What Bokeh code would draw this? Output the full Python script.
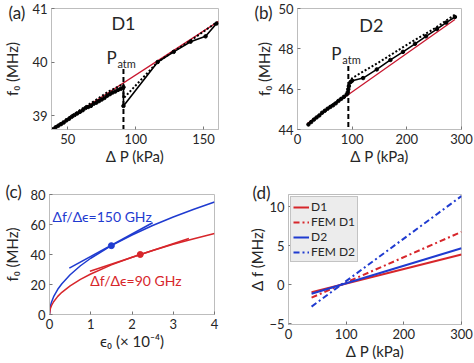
from bokeh.plotting import figure
from bokeh.models import Label, Range1d, Legend, LegendItem, FixedTicker, Title
from bokeh.layouts import row, column
from bokeh.embed import file_html
from bokeh.resources import INLINE

# ---------------- data ----------------
# (a) device D1
a_x = [38.5, 41, 43, 45, 47, 49, 51, 53, 55, 57, 59, 61, 63, 65, 67, 69, 71, 73, 75, 77,
       79, 81, 83, 85, 87, 89, 91, 91, 116.2, 128, 140.4, 151.5, 159.6]
a_y = [38.74, 38.78, 38.81, 38.84, 38.87, 38.91, 38.94, 38.98, 39.01, 39.04, 39.07, 39.10,
       39.14, 39.16, 39.18, 39.22, 39.24, 39.27, 39.30, 39.33, 39.37, 39.40, 39.43, 39.45,
       39.48, 39.50, 39.53, 39.18, 40.00, 40.19, 40.38, 40.48, 40.72]
a_model_x = [38.5, 50, 60, 70, 80, 91, 91, 116.2, 128, 140.4, 159.6]
a_model_y = [38.75, 38.95, 39.12, 39.28, 39.45, 39.59, 39.32, 40.0, 40.2, 40.4, 40.74]
a_fit_x = [38, 161]
a_fit_y = [38.74, 40.76]
a_patm = 91
a_patm_top = 39.87

# (b) device D2
b_x = [20, 25, 30, 35, 40, 45, 50, 55, 60, 65, 70, 75, 80, 85, 90, 92, 93, 94, 97, 100,
       120, 145, 170, 193, 215, 235, 255, 272, 288]
b_y = [44.25, 44.37, 44.49, 44.60, 44.70, 44.83, 44.93, 45.03, 45.12, 45.20, 45.30, 45.42,
       45.52, 45.62, 45.74, 45.85, 46.00, 46.15, 46.35, 46.42, 46.55, 46.98, 47.45, 47.85,
       48.25, 48.62, 48.98, 49.30, 49.58]
b_model_x = [20, 50, 90, 93, 100, 150, 200, 250, 288]
b_model_y = [44.28, 44.95, 45.76, 46.10, 46.55, 47.35, 48.2, 49.0, 49.7]
b_fit_x = [18, 288]
b_fit_y = [44.30, 49.45]
b_patm = 93
b_patm_top = 47.15

# (c) f0 vs strain
c_eps = [0, 0.02, 0.05, 0.1, 0.2, 0.3, 0.5, 0.75, 1.0, 1.5, 2.0, 2.5, 3.0, 3.5, 4.0]
c_blue = [0, 5.3, 8.4, 11.9, 16.8, 20.5, 26.5, 32.5, 37.5, 45.9, 53.0, 59.3, 65.0, 70.2, 75.0]
c_red = [0, 3.8, 6.0, 8.5, 12.1, 14.8, 19.1, 23.4, 27.0, 33.1, 38.2, 42.7, 46.8, 50.5, 54.0]
c_blue_tan_x = [0.48, 2.5]
c_blue_tan_y = [30.9, 61.2]
c_red_tan_x = [0.98, 3.38]
c_red_tan_y = [28.9, 50.6]
c_blue_pt = (1.5, 45.9)
c_red_pt = (2.2, 40.0)

# (d) frequency shift vs pressure
d_x = [40, 300]
d_d1 = [-0.95, 3.9]
d_fem_d1 = [-1.65, 6.8]
d_d2 = [-1.15, 4.7]
d_fem_d2 = [-2.8, 11.4]

# ---------------- style ----------------
FONT = "Lato"
RED = "#d7262b"
FITRED = "#c8162e"
BLUE = "#1f3bd0"
GRAY = "#bdbdbd"
TXT = "#262626"


def make_fig(xr, yr, xt, yt, xlabel, ylabel, ysd, ml, fw, mr, mt, fh, mb):
    p = figure(frame_width=fw, frame_height=fh, min_border_left=ml, min_border_right=mr,
               min_border_top=mt, min_border_bottom=mb,
               x_range=Range1d(*xr), y_range=Range1d(*yr),
               output_backend="svg", toolbar_location=None)
    p.xaxis.ticker = FixedTicker(ticks=xt)
    p.yaxis.ticker = FixedTicker(ticks=yt)
    p.xaxis.axis_label = xlabel
    p.yaxis.axis_label = ylabel
    for ax in (p.xaxis[0], p.yaxis[0]):
        ax.axis_line_color = GRAY
        ax.major_tick_in = 3
        ax.major_tick_out = 0
        ax.major_tick_line_color = "#777777"
        ax.minor_tick_line_color = None
        ax.major_label_text_font = FONT
        ax.major_label_text_font_size = "13px"
        ax.major_label_text_color = TXT
        ax.axis_label_text_font = FONT
        ax.axis_label_text_font_size = "15px"
        ax.axis_label_text_font_style = "normal"
        ax.axis_label_text_color = TXT
        ax.major_label_standoff = 4
    p.xaxis.axis_label_standoff = 0
    p.yaxis.axis_label_standoff = ysd
    p.outline_line_color = GRAY
    p.grid.visible = False
    return p


def letter(p, text, offset, standoff):
    p.title = Title(text=text, align="left", offset=offset, standoff=standoff,
                    text_font=FONT, text_font_size="17px", text_color=TXT,
                    text_font_style="normal")


def patm(p, x, y):
    p.add_layout(Label(x=x, y=y, x_offset=-17, y_offset=12, text="P",
                       text_font=FONT, text_font_size="17px", text_color=TXT,
                       text_baseline="middle"))
    p.add_layout(Label(x=x, y=y, x_offset=-6, y_offset=6, text="atm",
                       text_font=FONT, text_font_size="11px", text_color=TXT,
                       text_baseline="middle"))


# ---------------- (a) ----------------
pa = make_fig((38, 161), (38.74, 41), [50, 100, 150], [39, 40, 41],
              "Δ P (kPa)", "f₀ (MHz)", 8, 50, 167, 20, 8, 121, 52)
pa.line(a_fit_x, a_fit_y, line_color=FITRED, line_width=1.3)
pa.line(a_model_x, a_model_y, line_color="black", line_width=2, line_dash="2 2")
pa.line(a_x, a_y, line_color="black", line_width=1.6)
pa.scatter(a_x, a_y, size=3.5, color="black")
pa.line([a_patm, a_patm], [a_patm_top, 38.74], line_color="black", line_width=2, line_dash="5 3")
patm(pa, a_patm, a_patm_top)
pa.add_layout(Label(x=91, y=40.72, text="D1", text_font=FONT, text_font_size="18px",
                    text_color=TXT, text_align="center", text_baseline="middle"))
letter(pa, "(a)", -43, -28)

# ---------------- (b) ----------------
pb = make_fig((0, 300), (44, 50), [0, 100, 200, 300], [44, 46, 48, 50],
              "Δ P (kPa)", "f₀ (MHz)", 2, 59, 164, 14, 8, 121, 52)
pb.line(b_fit_x, b_fit_y, line_color=FITRED, line_width=1.3)
pb.line(b_model_x, b_model_y, line_color="black", line_width=2, line_dash="2 2")
pb.line(b_x, b_y, line_color="black", line_width=1.6)
pb.scatter(b_x, b_y, size=3.5, color="black")
pb.line([b_patm, b_patm], [b_patm_top, 44], line_color="black", line_width=2, line_dash="5 3")
patm(pb, b_patm, b_patm_top)
pb.add_layout(Label(x=135, y=49.2, text="D2", text_font=FONT, text_font_size="18px",
                    text_color=TXT, text_align="center", text_baseline="middle"))
letter(pb, "(b)", -43, -28)

# ---------------- (c) ----------------
pc = make_fig((0, 4), (0, 80), [0, 1, 2, 3, 4], [0, 20, 40, 60, 80],
              "ϵ₀ (× 10⁻⁴)", "f₀ (MHz)", 6, 47, 165, 25, 13, 120, 49)
pc.line(c_eps, c_blue, line_color=BLUE, line_width=1.5)
pc.line(c_eps, c_red, line_color=RED, line_width=1.5)
pc.line(c_blue_tan_x, c_blue_tan_y, line_color=BLUE, line_width=1.6)
pc.line(c_red_tan_x, c_red_tan_y, line_color=RED, line_width=1.6)
pc.scatter([c_blue_pt[0]], [c_blue_pt[1]], size=6, color=BLUE)
pc.scatter([c_red_pt[0]], [c_red_pt[1]], size=6, color=RED)
pc.add_layout(Label(x=0.07, y=65.3, text="Δf/Δϵ=150 GHz", text_font=FONT, text_font_size="14px",
                    text_color=BLUE, text_baseline="middle"))
pc.add_layout(Label(x=0.99, y=22.7, text="Δf/Δϵ=90 GHz", text_font=FONT, text_font_size="14px",
                    text_color=RED, text_baseline="middle"))
letter(pc, "(c)", -44, -14)

# ---------------- (d) ----------------
pd_ = make_fig((0, 300), (-5.1, 11.6), [0, 100, 200, 300], [-5, 0, 5, 10],
               "Δ P (kPa)", "Δ f (MHz)", 0, 49, 173, 15, 12, 130, 40)
r1 = pd_.line(d_x, d_d1, line_color=RED, line_width=2)
r2 = pd_.line(d_x, d_fem_d1, line_color=RED, line_width=2, line_dash="6 3 2 3")
r3 = pd_.line(d_x, d_d2, line_color=BLUE, line_width=2)
r4 = pd_.line(d_x, d_fem_d2, line_color=BLUE, line_width=2, line_dash="6 3 2 3")
leg = Legend(items=[LegendItem(label="D1", renderers=[r1]),
                    LegendItem(label="FEM D1", renderers=[r2]),
                    LegendItem(label="D2", renderers=[r3]),
                    LegendItem(label="FEM D2", renderers=[r4])],
             location="top_left", margin=2, padding=2, spacing=0,
             glyph_width=16, glyph_height=14, label_height=14, label_standoff=2,
             label_text_font=FONT, label_text_font_size="12px", label_text_color=TXT,
             background_fill_color="#ececec", background_fill_alpha=1,
             border_line_color="#9a9a9a", border_line_width=1)
pd_.add_layout(leg)
letter(pd_, "(d)", -36, -17)

layout = column(row(pa, pb, spacing=0), row(pc, pd_, spacing=0), spacing=0)

open("out.html", "w").write(file_html(layout, INLINE))
